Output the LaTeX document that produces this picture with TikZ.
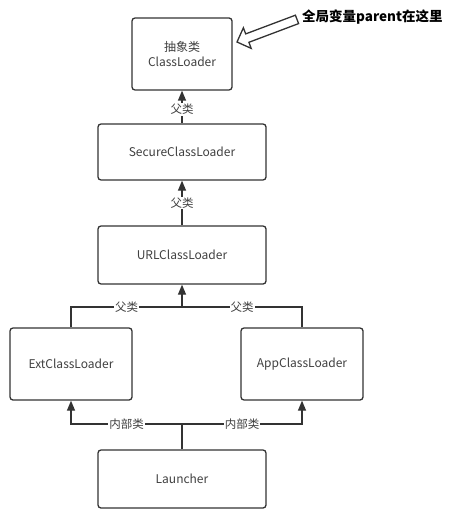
\documentclass[tikz,border=0pt]{standalone}
\usepackage{fontspec}
\setmainfont{Noto Sans CJK SC}
\usetikzlibrary{arrows.meta}
\begin{document}
\begin{tikzpicture}[x=1pt,y=-1pt,
  box/.style={draw=black!80,line width=1.3pt,rounded corners=3pt,fill=white,
    align=center,font=\fontsize{12}{15}\selectfont,text=black!75,inner sep=0pt},
  conn/.style={draw=black!80,line width=1.3pt},
  arr/.style={conn,-{Triangle[length=10pt,width=8pt]}},
  lbl/.style={fill=white,inner sep=1pt,font=\fontsize{11.5}{13}\selectfont,text=black!75}]
\useasboundingbox (0,0) rectangle (450,513);
\node[box,minimum width=100pt,minimum height=72pt] (cl) at (182,54) {抽象类\\ClassLoader};
\node[box,minimum width=168pt,minimum height=56pt] (scl) at (182,152) {SecureClassLoader};
\node[box,minimum width=168pt,minimum height=58pt] (url) at (182,255) {URLClassLoader};
\node[box,minimum width=122pt,minimum height=72pt] (ext) at (71,364) {ExtClassLoader};
\node[box,minimum width=122pt,minimum height=72pt] (app) at (302,364) {AppClassLoader};
\node[box,minimum width=168pt,minimum height=58pt] (la) at (182,479) {Launcher};
\coordinate (j1) at (182,307);
\coordinate (j2) at (182,424);
\draw[arr] (scl.north) -- node[lbl,pos=0.42]{父类} (cl.south);
\draw[arr] (url.north) -- node[lbl,pos=0.5]{父类} (scl.south);
\draw[conn] (ext.north) |- node[lbl,pos=0.75]{父类} (j1);
\draw[conn] (app.north) |- node[lbl,pos=0.75]{父类} (j1);
\draw[arr] (j1) -- (url.south);
\draw[conn] (la.north) -- (j2);
\draw[arr] (j2) -| node[lbl,pos=0.25]{内部类} (ext.south);
\draw[arr] (j2) -| node[lbl,pos=0.25]{内部类} (app.south);
\draw[draw=black!80,line width=1.3pt,fill=white,line join=miter]
  (237,42) -- (251.2,48.4) -- (248.9,42.3) -- (298.6,23.6) -- (295.4,15.2)
  -- (245.7,33.9) -- (243.4,27.8) -- cycle;
\node[font=\fontsize{13.5}{15}\selectfont\bfseries,anchor=west,inner sep=0pt,text=black] (note) at (302,17) {全局变量parent在这里};
\end{tikzpicture}
\end{document}
